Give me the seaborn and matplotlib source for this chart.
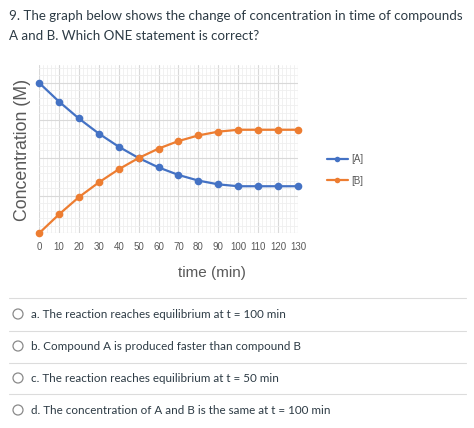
import pandas as pd
import seaborn as sns
import matplotlib.pyplot as plt
from matplotlib.lines import Line2D
from matplotlib.patches import Ellipse
from matplotlib.ticker import MultipleLocator

# ------------------------------
# Data
# ------------------------------
time_min = [0, 10, 20, 30, 40, 50, 60, 70, 80, 90, 100, 110, 120, 130]
conc_A = [4.0, 3.5, 3.05, 2.65, 2.3, 2.0, 1.75, 1.55, 1.4, 1.3, 1.25, 1.25, 1.25, 1.25]
conc_B = [0.0, 0.5, 0.96, 1.35, 1.7, 2.0, 2.25, 2.45, 2.6, 2.7, 2.75, 2.75, 2.75, 2.75]
series_names = ["[A]", "[B]"]
colors = ["#4472C4", "#ED7D31"]

question = ["9. The graph below shows the change of concentration in time of compounds",
            "A and B. Which ONE statement is correct?"]
options = ["a. The reaction reaches equilibrium at t = 100 min",
           "b. Compound A is produced faster than compound B",
           "c. The reaction reaches equilibrium at t = 50 min",
           "d. The concentration of A and B is the same at t = 100 min"]

df = pd.DataFrame({
    "time": time_min * 2,
    "conc": conc_A + conc_B,
    "series": [series_names[0]] * len(time_min) + [series_names[1]] * len(time_min),
})

# ------------------------------
# Figure
# ------------------------------
W, H = 474, 428
sns.set_style("white")
plt.rcParams["font.family"] = ["Liberation Sans", "DejaVu Sans"]

fig = plt.figure(figsize=(W / 100, H / 100), dpi=100)
ax = fig.add_axes([39 / W, 1 - 233.3 / H, (298 - 39) / W, (233.3 - 65) / H])

sns.lineplot(data=df, x="time", y="conc", hue="series", palette=colors,
             marker="o", markersize=5.5, markeredgewidth=0, linewidth=1.6,
             ax=ax, legend=False, clip_on=False, zorder=3)

ax.set_xlim(0, 130)
ax.set_ylim(0, (233.3 - 65) / 37.65)
ax.xaxis.set_major_locator(MultipleLocator(10))
ax.xaxis.set_minor_locator(MultipleLocator(2))
ax.yaxis.set_major_locator(MultipleLocator(1))
ax.yaxis.set_minor_locator(MultipleLocator(0.2))
ax.grid(which="major", color="#d9d9d9", linewidth=0.8)
ax.grid(which="minor", color="#efefef", linewidth=0.6)
ax.set_axisbelow(True)
for s in ax.spines.values():
    s.set_visible(False)
ax.tick_params(axis="both", which="both", length=0)
ax.tick_params(axis="x", labelsize=7, labelcolor="#595959", pad=6)
ax.set_yticklabels([])
ax.set_xlabel("time (min)", fontsize=11, color="#595959")
ax.xaxis.set_label_coords((212 - 39) / 259, -(266 - 233.3) / 168.3)
ax.set_ylabel("Concentration (M)", fontsize=12.8, color="#595959")
ax.yaxis.set_label_coords(-(39 - 31) / 259, (233.3 - 150) / 168.3)

# legend
handles = [Line2D([], [], color=c, marker="o", markersize=4, markeredgewidth=0, linewidth=1.6)
           for c in colors]
fig.legend(handles, series_names, loc="center left", bbox_to_anchor=(318 / W, 1 - 170 / H),
           frameon=False, fontsize=7, labelcolor="#595959", handlelength=2.2,
           handletextpad=0.3, labelspacing=1.2)

# ------------------------------
# Question and answers
# ------------------------------
qfont = ["Lato", "DejaVu Sans"]
fig.text(9 / W, 1 - 16 / H, question[0], fontsize=9.6, family=qfont, color="#2d3b45", va="center")
fig.text(9 / W, 1 - 36 / H, question[1], fontsize=9.6, family=qfont, color="#2d3b45", va="center")

sep_y = [298, 331, 363, 394]
opt_y = [314, 346, 378, 410]
for y in sep_y:
    fig.add_artist(Line2D([9 / W, 466 / W], [1 - y / H, 1 - y / H], color="#dcdcdc", linewidth=0.8))
for y, txt in zip(opt_y, options):
    fig.add_artist(Ellipse((18 / W, 1 - y / H), 10 / W, 10 / H, transform=fig.transFigure,
                           facecolor="white", edgecolor="#8a8a8a", linewidth=0.9))
    fig.text(31 / W, 1 - y / H, txt, fontsize=8.4, family=qfont, color="#2d3b45", va="center")

fig.savefig("out.png", dpi=100)
